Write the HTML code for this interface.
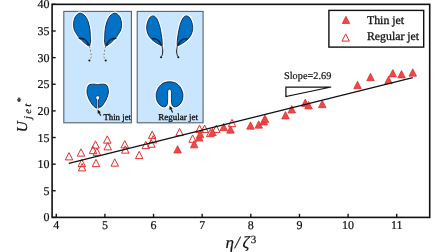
<!DOCTYPE html>
<html><head><meta charset="utf-8"><title>Jet velocity</title>
<style>
html,body{margin:0;padding:0;background:#fff;}
body{width:448px;height:252px;overflow:hidden;}
svg{display:block;}
text{font-family:"Liberation Serif","DejaVu Serif",serif;fill:#111;stroke:#111;stroke-width:0.2px;text-rendering:geometricPrecision;}
</style></head><body>
<svg width="448" height="252" viewBox="0 0 448 252">
<rect width="448" height="252" fill="#fff"/>

<rect x="52.1" y="4.35" width="377.59999999999997" height="213.05" fill="none" stroke="#111" stroke-width="1.6"/>
<line x1="56.25" y1="217.4" x2="56.25" y2="213.8" stroke="#111" stroke-width="1.35"/>
<text x="56.25" y="228.9" font-size="12" text-anchor="middle">4</text>
<line x1="104.89" y1="217.4" x2="104.89" y2="213.8" stroke="#111" stroke-width="1.35"/>
<text x="104.89" y="228.9" font-size="12" text-anchor="middle">5</text>
<line x1="153.53" y1="217.4" x2="153.53" y2="213.8" stroke="#111" stroke-width="1.35"/>
<text x="153.53" y="228.9" font-size="12" text-anchor="middle">6</text>
<line x1="202.17" y1="217.4" x2="202.17" y2="213.8" stroke="#111" stroke-width="1.35"/>
<text x="202.17" y="228.9" font-size="12" text-anchor="middle">7</text>
<line x1="250.81" y1="217.4" x2="250.81" y2="213.8" stroke="#111" stroke-width="1.35"/>
<text x="250.81" y="228.9" font-size="12" text-anchor="middle">8</text>
<line x1="299.45" y1="217.4" x2="299.45" y2="213.8" stroke="#111" stroke-width="1.35"/>
<text x="299.45" y="228.9" font-size="12" text-anchor="middle">9</text>
<line x1="348.09" y1="217.4" x2="348.09" y2="213.8" stroke="#111" stroke-width="1.35"/>
<text x="348.09" y="228.9" font-size="12" text-anchor="middle">10</text>
<line x1="396.73" y1="217.4" x2="396.73" y2="213.8" stroke="#111" stroke-width="1.35"/>
<text x="396.73" y="228.9" font-size="12" text-anchor="middle">11</text>
<line x1="52.1" y1="217.40" x2="55.7" y2="217.40" stroke="#111" stroke-width="1.35"/>
<text x="49.6" y="221.40" font-size="12" text-anchor="end">0</text>
<line x1="52.1" y1="190.77" x2="55.7" y2="190.77" stroke="#111" stroke-width="1.35"/>
<text x="49.6" y="194.77" font-size="12" text-anchor="end">5</text>
<line x1="52.1" y1="164.14" x2="55.7" y2="164.14" stroke="#111" stroke-width="1.35"/>
<text x="49.6" y="168.14" font-size="12" text-anchor="end">10</text>
<line x1="52.1" y1="137.51" x2="55.7" y2="137.51" stroke="#111" stroke-width="1.35"/>
<text x="49.6" y="141.51" font-size="12" text-anchor="end">15</text>
<line x1="52.1" y1="110.88" x2="55.7" y2="110.88" stroke="#111" stroke-width="1.35"/>
<text x="49.6" y="114.88" font-size="12" text-anchor="end">20</text>
<line x1="52.1" y1="84.25" x2="55.7" y2="84.25" stroke="#111" stroke-width="1.35"/>
<text x="49.6" y="88.25" font-size="12" text-anchor="end">25</text>
<line x1="52.1" y1="57.62" x2="55.7" y2="57.62" stroke="#111" stroke-width="1.35"/>
<text x="49.6" y="61.62" font-size="12" text-anchor="end">30</text>
<line x1="52.1" y1="30.99" x2="55.7" y2="30.99" stroke="#111" stroke-width="1.35"/>
<text x="49.6" y="34.99" font-size="12" text-anchor="end">35</text>
<line x1="52.1" y1="4.36" x2="55.7" y2="4.36" stroke="#111" stroke-width="1.35"/>
<text x="49.6" y="8.36" font-size="12" text-anchor="end">40</text>
<g id="insets">
<rect x="63.8" y="11.4" width="67.6" height="111.4" fill="#cae6fe" stroke="#59616c" stroke-width="1.1"/>
<rect x="137.2" y="11.4" width="65.9" height="111.4" fill="#cae6fe" stroke="#59616c" stroke-width="1.1"/>
<path d="M89.60,46.30C89.77,45.42 90.47,42.52 90.60,41.00C90.73,39.48 90.52,39.10 90.40,37.20C90.28,35.30 90.27,32.13 89.90,29.60C89.53,27.07 89.02,24.28 88.20,22.00C87.38,19.72 86.37,17.37 85.00,15.90C83.63,14.43 81.58,13.10 80.00,13.20C78.42,13.30 76.57,14.83 75.50,16.50C74.43,18.17 73.81,21.02 73.60,23.20C73.39,25.38 73.62,27.58 74.25,29.60C74.88,31.62 76.56,33.93 77.40,35.30C78.24,36.67 78.28,36.68 79.30,37.80C80.32,38.92 82.22,40.83 83.50,42.00C84.78,43.17 85.98,44.08 87.00,44.80C88.02,45.52 89.17,46.05 89.60,46.30Z" fill="none" stroke="#fff" stroke-width="3.4" stroke-opacity="0.9" stroke-linejoin="round"/>
<path d="M89.60,46.30C89.77,45.42 90.47,42.52 90.60,41.00C90.73,39.48 90.52,39.10 90.40,37.20C90.28,35.30 90.27,32.13 89.90,29.60C89.53,27.07 89.02,24.28 88.20,22.00C87.38,19.72 86.37,17.37 85.00,15.90C83.63,14.43 81.58,13.10 80.00,13.20C78.42,13.30 76.57,14.83 75.50,16.50C74.43,18.17 73.81,21.02 73.60,23.20C73.39,25.38 73.62,27.58 74.25,29.60C74.88,31.62 76.56,33.93 77.40,35.30C78.24,36.67 78.28,36.68 79.30,37.80C80.32,38.92 82.22,40.83 83.50,42.00C84.78,43.17 85.98,44.08 87.00,44.80C88.02,45.52 89.17,46.05 89.60,46.30Z" fill="#0272c6" stroke="#0a2348" stroke-width="0.9" stroke-linejoin="round"/>
<path d="M79.30,38.30C80.02,38.40 82.30,38.27 83.60,38.90C84.90,39.53 86.32,41.15 87.10,42.10C87.88,43.05 88.10,44.18 88.30,44.60" fill="none" stroke="#0a2348" stroke-width="1.6" stroke-linecap="round"/>
<path d="M89.50,46.10C89.63,46.72 90.05,48.52 90.30,49.80C90.55,51.08 90.86,52.63 91.00,53.80C91.14,54.97 91.22,55.97 91.15,56.80C91.08,57.63 90.82,58.27 90.60,58.80C90.38,59.33 89.93,59.80 89.80,60.00" fill="none" stroke="#fff" stroke-width="1.3" stroke-opacity="0.8"/>
<path d="M89.50,46.10C89.63,46.72 90.05,48.52 90.30,49.80C90.55,51.08 90.86,52.63 91.00,53.80C91.14,54.97 91.22,55.97 91.15,56.80C91.08,57.63 90.82,58.27 90.60,58.80C90.38,59.33 89.93,59.80 89.80,60.00" fill="none" stroke="#3a4658" stroke-width="0.7" stroke-dasharray="2.2 1.3"/>
<circle cx="89.40" cy="60.50" r="1.05" fill="#101418"/>
<path d="M105.50,46.30C105.33,45.42 104.63,42.52 104.50,41.00C104.37,39.48 104.58,39.10 104.70,37.20C104.82,35.30 104.83,32.13 105.20,29.60C105.57,27.07 106.08,24.28 106.90,22.00C107.72,19.72 108.73,17.37 110.10,15.90C111.47,14.43 113.52,13.10 115.10,13.20C116.68,13.30 118.53,14.83 119.60,16.50C120.67,18.17 121.29,21.02 121.50,23.20C121.71,25.38 121.48,27.58 120.85,29.60C120.22,31.62 118.54,33.93 117.70,35.30C116.86,36.67 116.82,36.68 115.80,37.80C114.78,38.92 112.88,40.83 111.60,42.00C110.32,43.17 109.12,44.08 108.10,44.80C107.08,45.52 105.93,46.05 105.50,46.30Z" fill="none" stroke="#fff" stroke-width="3.4" stroke-opacity="0.9" stroke-linejoin="round"/>
<path d="M105.50,46.30C105.33,45.42 104.63,42.52 104.50,41.00C104.37,39.48 104.58,39.10 104.70,37.20C104.82,35.30 104.83,32.13 105.20,29.60C105.57,27.07 106.08,24.28 106.90,22.00C107.72,19.72 108.73,17.37 110.10,15.90C111.47,14.43 113.52,13.10 115.10,13.20C116.68,13.30 118.53,14.83 119.60,16.50C120.67,18.17 121.29,21.02 121.50,23.20C121.71,25.38 121.48,27.58 120.85,29.60C120.22,31.62 118.54,33.93 117.70,35.30C116.86,36.67 116.82,36.68 115.80,37.80C114.78,38.92 112.88,40.83 111.60,42.00C110.32,43.17 109.12,44.08 108.10,44.80C107.08,45.52 105.93,46.05 105.50,46.30Z" fill="#0272c6" stroke="#0a2348" stroke-width="0.9" stroke-linejoin="round"/>
<path d="M115.80,38.30C115.08,38.40 112.80,38.27 111.50,38.90C110.20,39.53 108.78,41.15 108.00,42.10C107.22,43.05 107.00,44.18 106.80,44.60" fill="none" stroke="#0a2348" stroke-width="1.6" stroke-linecap="round"/>
<path d="M105.60,46.10C105.47,46.72 105.05,48.52 104.80,49.80C104.55,51.08 104.24,52.63 104.10,53.80C103.96,54.97 103.88,55.97 103.95,56.80C104.02,57.63 104.28,58.27 104.50,58.80C104.72,59.33 105.17,59.80 105.30,60.00" fill="none" stroke="#fff" stroke-width="1.3" stroke-opacity="0.8"/>
<path d="M105.60,46.10C105.47,46.72 105.05,48.52 104.80,49.80C104.55,51.08 104.24,52.63 104.10,53.80C103.96,54.97 103.88,55.97 103.95,56.80C104.02,57.63 104.28,58.27 104.50,58.80C104.72,59.33 105.17,59.80 105.30,60.00" fill="none" stroke="#3a4658" stroke-width="0.7" stroke-dasharray="2.2 1.3"/>
<circle cx="105.70" cy="60.50" r="1.05" fill="#101418"/>
<path d="M162.20,46.40C162.18,45.50 162.25,42.93 162.10,41.00C161.95,39.07 161.70,37.22 161.30,34.80C160.90,32.38 160.47,29.20 159.70,26.50C158.93,23.80 157.77,20.37 156.70,18.60C155.63,16.83 154.53,15.95 153.30,15.90C152.07,15.85 150.40,16.53 149.30,18.30C148.20,20.07 146.93,23.92 146.70,26.50C146.47,29.08 147.13,31.73 147.90,33.80C148.67,35.87 149.87,37.37 151.30,38.90C152.73,40.43 154.98,41.95 156.50,43.00C158.02,44.05 159.45,44.63 160.40,45.20C161.35,45.77 161.90,46.20 162.20,46.40Z" fill="none" stroke="#fff" stroke-width="3.4" stroke-opacity="0.9" stroke-linejoin="round"/>
<path d="M162.20,46.40C162.18,45.50 162.25,42.93 162.10,41.00C161.95,39.07 161.70,37.22 161.30,34.80C160.90,32.38 160.47,29.20 159.70,26.50C158.93,23.80 157.77,20.37 156.70,18.60C155.63,16.83 154.53,15.95 153.30,15.90C152.07,15.85 150.40,16.53 149.30,18.30C148.20,20.07 146.93,23.92 146.70,26.50C146.47,29.08 147.13,31.73 147.90,33.80C148.67,35.87 149.87,37.37 151.30,38.90C152.73,40.43 154.98,41.95 156.50,43.00C158.02,44.05 159.45,44.63 160.40,45.20C161.35,45.77 161.90,46.20 162.20,46.40Z" fill="#0272c6" stroke="#0a2348" stroke-width="0.9" stroke-linejoin="round"/>
<path d="M153.00,38.60C153.55,38.72 155.27,38.80 156.30,39.30C157.33,39.80 158.42,40.75 159.20,41.60C159.98,42.45 160.70,43.93 161.00,44.40" fill="none" stroke="#0a2348" stroke-width="1.6" stroke-linecap="round"/>
<path d="M162.20,46.40C162.29,47.17 162.73,49.60 162.75,51.00C162.77,52.40 162.53,53.87 162.30,54.80C162.08,55.73 161.55,56.30 161.40,56.60" fill="none" stroke="#fff" stroke-width="1.3" stroke-opacity="0.8"/>
<path d="M162.20,46.40C162.29,47.17 162.73,49.60 162.75,51.00C162.77,52.40 162.53,53.87 162.30,54.80C162.08,55.73 161.55,56.30 161.40,56.60" fill="none" stroke="#101418" stroke-width="1.0"/>
<circle cx="161.10" cy="57.20" r="1.05" fill="#101418"/>
<path d="M177.20,46.40C177.22,45.50 177.15,42.93 177.30,41.00C177.45,39.07 177.70,37.22 178.10,34.80C178.50,32.38 178.93,29.20 179.70,26.50C180.47,23.80 181.63,20.37 182.70,18.60C183.77,16.83 184.87,15.95 186.10,15.90C187.33,15.85 189.00,16.53 190.10,18.30C191.20,20.07 192.47,23.92 192.70,26.50C192.93,29.08 192.27,31.73 191.50,33.80C190.73,35.87 189.53,37.37 188.10,38.90C186.67,40.43 184.42,41.95 182.90,43.00C181.38,44.05 179.95,44.63 179.00,45.20C178.05,45.77 177.50,46.20 177.20,46.40Z" fill="none" stroke="#fff" stroke-width="3.4" stroke-opacity="0.9" stroke-linejoin="round"/>
<path d="M177.20,46.40C177.22,45.50 177.15,42.93 177.30,41.00C177.45,39.07 177.70,37.22 178.10,34.80C178.50,32.38 178.93,29.20 179.70,26.50C180.47,23.80 181.63,20.37 182.70,18.60C183.77,16.83 184.87,15.95 186.10,15.90C187.33,15.85 189.00,16.53 190.10,18.30C191.20,20.07 192.47,23.92 192.70,26.50C192.93,29.08 192.27,31.73 191.50,33.80C190.73,35.87 189.53,37.37 188.10,38.90C186.67,40.43 184.42,41.95 182.90,43.00C181.38,44.05 179.95,44.63 179.00,45.20C178.05,45.77 177.50,46.20 177.20,46.40Z" fill="#0272c6" stroke="#0a2348" stroke-width="0.9" stroke-linejoin="round"/>
<path d="M186.40,38.60C185.85,38.72 184.13,38.80 183.10,39.30C182.07,39.80 180.98,40.75 180.20,41.60C179.42,42.45 178.70,43.93 178.40,44.40" fill="none" stroke="#0a2348" stroke-width="1.6" stroke-linecap="round"/>
<path d="M177.20,46.40C177.11,47.17 176.67,49.60 176.65,51.00C176.63,52.40 176.87,53.87 177.10,54.80C177.32,55.73 177.85,56.30 178.00,56.60" fill="none" stroke="#fff" stroke-width="1.3" stroke-opacity="0.8"/>
<path d="M177.20,46.40C177.11,47.17 176.67,49.60 176.65,51.00C176.63,52.40 176.87,53.87 177.10,54.80C177.32,55.73 177.85,56.30 178.00,56.60" fill="none" stroke="#101418" stroke-width="1.0"/>
<circle cx="178.30" cy="57.20" r="1.05" fill="#101418"/>
<path d="M97.70,84.70C97.00,84.70 96.47,84.38 95.60,84.30C94.73,84.22 93.45,84.15 92.50,84.20C91.55,84.25 90.63,84.27 89.90,84.60C89.17,84.93 88.58,85.17 88.10,86.20C87.62,87.23 87.08,89.30 87.00,90.80C86.92,92.30 87.17,93.62 87.60,95.20C88.03,96.78 88.87,98.82 89.60,100.30C90.33,101.78 91.22,103.03 92.00,104.10C92.78,105.17 93.58,106.08 94.30,106.70C95.02,107.32 95.17,107.80 96.30,107.80C97.43,107.80 99.92,107.32 101.10,106.70C102.28,106.08 102.62,105.17 103.40,104.10C104.18,103.03 105.07,101.78 105.80,100.30C106.53,98.82 107.37,96.78 107.80,95.20C108.23,93.62 108.48,92.30 108.40,90.80C108.32,89.30 107.78,87.23 107.30,86.20C106.82,85.17 106.23,84.93 105.50,84.60C104.77,84.27 103.85,84.25 102.90,84.20C101.95,84.15 100.67,84.22 99.80,84.30C98.93,84.38 98.40,84.70 97.70,84.70Z" fill="none" stroke="#fff" stroke-width="3.4" stroke-opacity="0.9"/>
<path d="M97.70,84.70C97.00,84.70 96.47,84.38 95.60,84.30C94.73,84.22 93.45,84.15 92.50,84.20C91.55,84.25 90.63,84.27 89.90,84.60C89.17,84.93 88.58,85.17 88.10,86.20C87.62,87.23 87.08,89.30 87.00,90.80C86.92,92.30 87.17,93.62 87.60,95.20C88.03,96.78 88.87,98.82 89.60,100.30C90.33,101.78 91.22,103.03 92.00,104.10C92.78,105.17 93.58,106.08 94.30,106.70C95.02,107.32 95.17,107.80 96.30,107.80C97.43,107.80 99.92,107.32 101.10,106.70C102.28,106.08 102.62,105.17 103.40,104.10C104.18,103.03 105.07,101.78 105.80,100.30C106.53,98.82 107.37,96.78 107.80,95.20C108.23,93.62 108.48,92.30 108.40,90.80C108.32,89.30 107.78,87.23 107.30,86.20C106.82,85.17 106.23,84.93 105.50,84.60C104.77,84.27 103.85,84.25 102.90,84.20C101.95,84.15 100.67,84.22 99.80,84.30C98.93,84.38 98.40,84.70 97.70,84.70Z" fill="#0272c6" stroke="#0a2348" stroke-width="0.9"/>
<path d="M96.85000000000001,108.3 L96.95,99.6 A2.0,2.0 0 1 1 98.45,99.6 L98.55,108.3 Z" fill="#fff" stroke="#0a2348" stroke-width="0.8" stroke-linejoin="round"/>
<rect x="97.25" y="107.5" width="0.9" height="1.4" fill="#fff"/>
<line x1="100.80" y1="115.70" x2="99.31" y2="112.94" stroke="#111" stroke-width="1.1"/><polygon points="97.50,109.60 100.80,112.13 97.81,113.75" fill="#111"/>
<text x="103.4" y="120.2" font-size="8.8" style="stroke-width:0.3px">Thin jet</text>
<path d="M167.35000000000002,107.8 L167.65,90.8 A1.9,1.9 0 0 1 171.45000000000002,90.8 L171.75,107.8Z" fill="#fff"/>
<path d="M169.55,81.80C167.57,81.80 165.31,82.20 163.60,83.00C161.89,83.80 160.43,85.17 159.30,86.60C158.17,88.03 157.32,90.05 156.80,91.60C156.28,93.15 156.15,94.35 156.20,95.90C156.25,97.45 156.48,99.40 157.10,100.90C157.72,102.40 158.85,103.92 159.90,104.90C160.95,105.88 162.40,106.55 163.40,106.80C164.40,107.05 165.27,106.83 165.90,106.40C166.53,105.97 166.91,105.37 167.20,104.20C167.49,103.03 167.57,101.38 167.65,99.40C167.73,97.42 167.56,93.87 167.65,92.30C167.74,90.73 167.88,90.55 168.20,90.00C168.52,89.45 169.10,89.00 169.55,89.00C170.00,89.00 170.58,89.45 170.90,90.00C171.22,90.55 171.36,90.73 171.45,92.30C171.54,93.87 171.38,97.42 171.45,99.40C171.53,101.38 171.61,103.03 171.90,104.20C172.19,105.37 172.57,105.97 173.20,106.40C173.83,106.83 174.70,107.05 175.70,106.80C176.70,106.55 178.15,105.88 179.20,104.90C180.25,103.92 181.38,102.40 182.00,100.90C182.62,99.40 182.85,97.45 182.90,95.90C182.95,94.35 182.82,93.15 182.30,91.60C181.78,90.05 180.93,88.03 179.80,86.60C178.67,85.17 177.21,83.80 175.50,83.00C173.79,82.20 171.53,81.80 169.55,81.80Z" fill="none" stroke="#fff" stroke-width="3.4" stroke-opacity="0.9"/>
<path d="M169.55,81.80C167.57,81.80 165.31,82.20 163.60,83.00C161.89,83.80 160.43,85.17 159.30,86.60C158.17,88.03 157.32,90.05 156.80,91.60C156.28,93.15 156.15,94.35 156.20,95.90C156.25,97.45 156.48,99.40 157.10,100.90C157.72,102.40 158.85,103.92 159.90,104.90C160.95,105.88 162.40,106.55 163.40,106.80C164.40,107.05 165.27,106.83 165.90,106.40C166.53,105.97 166.91,105.37 167.20,104.20C167.49,103.03 167.57,101.38 167.65,99.40C167.73,97.42 167.56,93.87 167.65,92.30C167.74,90.73 167.88,90.55 168.20,90.00C168.52,89.45 169.10,89.00 169.55,89.00C170.00,89.00 170.58,89.45 170.90,90.00C171.22,90.55 171.36,90.73 171.45,92.30C171.54,93.87 171.38,97.42 171.45,99.40C171.53,101.38 171.61,103.03 171.90,104.20C172.19,105.37 172.57,105.97 173.20,106.40C173.83,106.83 174.70,107.05 175.70,106.80C176.70,106.55 178.15,105.88 179.20,104.90C180.25,103.92 181.38,102.40 182.00,100.90C182.62,99.40 182.85,97.45 182.90,95.90C182.95,94.35 182.82,93.15 182.30,91.60C181.78,90.05 180.93,88.03 179.80,86.60C178.67,85.17 177.21,83.80 175.50,83.00C173.79,82.20 171.53,81.80 169.55,81.80Z" fill="#0272c6" stroke="#0a2348" stroke-width="0.9"/>
<line x1="172.60" y1="112.60" x2="171.08" y2="109.26" stroke="#111" stroke-width="1.1"/><polygon points="169.50,105.80 172.62,108.55 169.53,109.96" fill="#111"/>
<text x="158.3" y="119.7" font-size="9.0" style="stroke-width:0.3px">Regular jet</text>
</g>
<polygon points="285.9,87.0 331.2,87.0 285.9,96.6" fill="#fff" stroke="#111" stroke-width="1.25" stroke-linejoin="miter"/>
<text x="284" y="79.0" font-size="10.3">Slope=2.69</text>
<polygon points="69.00,152.60 72.75,159.90 65.25,159.90" fill="#fff" fill-opacity="0.0" stroke="#e32d2d" stroke-width="1.0" stroke-linejoin="miter"/>
<polygon points="81.00,148.85 84.75,156.15 77.25,156.15" fill="#fff" fill-opacity="0.0" stroke="#e32d2d" stroke-width="1.0" stroke-linejoin="miter"/>
<polygon points="81.75,159.35 85.50,166.65 78.00,166.65" fill="#fff" fill-opacity="0.0" stroke="#e32d2d" stroke-width="1.0" stroke-linejoin="miter"/>
<polygon points="82.10,163.55 85.85,170.85 78.35,170.85" fill="#fff" fill-opacity="0.0" stroke="#e32d2d" stroke-width="1.0" stroke-linejoin="miter"/>
<polygon points="93.00,146.35 96.75,153.65 89.25,153.65" fill="#fff" fill-opacity="0.0" stroke="#e32d2d" stroke-width="1.0" stroke-linejoin="miter"/>
<polygon points="95.50,140.85 99.25,148.15 91.75,148.15" fill="#fff" fill-opacity="0.0" stroke="#e32d2d" stroke-width="1.0" stroke-linejoin="miter"/>
<polygon points="96.90,148.05 100.65,155.35 93.15,155.35" fill="#fff" fill-opacity="0.0" stroke="#e32d2d" stroke-width="1.0" stroke-linejoin="miter"/>
<polygon points="96.00,159.35 99.75,166.65 92.25,166.65" fill="#fff" fill-opacity="0.0" stroke="#e32d2d" stroke-width="1.0" stroke-linejoin="miter"/>
<polygon points="107.25,135.85 111.00,143.15 103.50,143.15" fill="#fff" fill-opacity="0.0" stroke="#e32d2d" stroke-width="1.0" stroke-linejoin="miter"/>
<polygon points="107.75,142.60 111.50,149.90 104.00,149.90" fill="#fff" fill-opacity="0.0" stroke="#e32d2d" stroke-width="1.0" stroke-linejoin="miter"/>
<polygon points="114.75,158.85 118.50,166.15 111.00,166.15" fill="#fff" fill-opacity="0.0" stroke="#e32d2d" stroke-width="1.0" stroke-linejoin="miter"/>
<polygon points="124.75,140.60 128.50,147.90 121.00,147.90" fill="#fff" fill-opacity="0.0" stroke="#e32d2d" stroke-width="1.0" stroke-linejoin="miter"/>
<polygon points="125.25,145.85 129.00,153.15 121.50,153.15" fill="#fff" fill-opacity="0.0" stroke="#e32d2d" stroke-width="1.0" stroke-linejoin="miter"/>
<polygon points="139.20,151.35 142.95,158.65 135.45,158.65" fill="#fff" fill-opacity="0.0" stroke="#e32d2d" stroke-width="1.0" stroke-linejoin="miter"/>
<polygon points="145.80,141.35 149.55,148.65 142.05,148.65" fill="#fff" fill-opacity="0.0" stroke="#e32d2d" stroke-width="1.0" stroke-linejoin="miter"/>
<polygon points="151.40,139.95 155.15,147.25 147.65,147.25" fill="#fff" fill-opacity="0.0" stroke="#e32d2d" stroke-width="1.0" stroke-linejoin="miter"/>
<polygon points="152.20,131.05 155.95,138.35 148.45,138.35" fill="#fff" fill-opacity="0.0" stroke="#e32d2d" stroke-width="1.0" stroke-linejoin="miter"/>
<polygon points="153.20,135.55 156.95,142.85 149.45,142.85" fill="#fff" fill-opacity="0.0" stroke="#e32d2d" stroke-width="1.0" stroke-linejoin="miter"/>
<polygon points="179.60,128.35 183.35,135.65 175.85,135.65" fill="#fff" fill-opacity="0.0" stroke="#e32d2d" stroke-width="1.0" stroke-linejoin="miter"/>
<polygon points="192.60,134.95 196.35,142.25 188.85,142.25" fill="#fff" fill-opacity="0.0" stroke="#e32d2d" stroke-width="1.0" stroke-linejoin="miter"/>
<polygon points="199.50,125.10 203.25,132.40 195.75,132.40" fill="#fff" fill-opacity="0.0" stroke="#e32d2d" stroke-width="1.0" stroke-linejoin="miter"/>
<polygon points="204.60,125.10 208.35,132.40 200.85,132.40" fill="#fff" fill-opacity="0.0" stroke="#e32d2d" stroke-width="1.0" stroke-linejoin="miter"/>
<polygon points="210.30,129.35 214.05,136.65 206.55,136.65" fill="#fff" fill-opacity="0.0" stroke="#e32d2d" stroke-width="1.0" stroke-linejoin="miter"/>
<polygon points="216.25,125.10 220.00,132.40 212.50,132.40" fill="#fff" fill-opacity="0.0" stroke="#e32d2d" stroke-width="1.0" stroke-linejoin="miter"/>
<polygon points="232.00,119.35 235.75,126.65 228.25,126.65" fill="#fff" fill-opacity="0.0" stroke="#e32d2d" stroke-width="1.0" stroke-linejoin="miter"/>
<polygon points="177.60,145.65 181.35,152.95 173.85,152.95" fill="#e84a4a" stroke="#e32d2d" stroke-width="0.8" stroke-linejoin="round"/>
<polygon points="194.20,140.55 197.95,147.85 190.45,147.85" fill="#e84a4a" stroke="#e32d2d" stroke-width="0.8" stroke-linejoin="round"/>
<polygon points="199.20,133.75 202.95,141.05 195.45,141.05" fill="#e84a4a" stroke="#e32d2d" stroke-width="0.8" stroke-linejoin="round"/>
<polygon points="200.20,130.55 203.95,137.85 196.45,137.85" fill="#e84a4a" stroke="#e32d2d" stroke-width="0.8" stroke-linejoin="round"/>
<polygon points="212.50,128.35 216.25,135.65 208.75,135.65" fill="#e84a4a" stroke="#e32d2d" stroke-width="0.8" stroke-linejoin="round"/>
<polygon points="223.75,123.35 227.50,130.65 220.00,130.65" fill="#e84a4a" stroke="#e32d2d" stroke-width="0.8" stroke-linejoin="round"/>
<polygon points="230.50,125.85 234.25,133.15 226.75,133.15" fill="#e84a4a" stroke="#e32d2d" stroke-width="0.8" stroke-linejoin="round"/>
<polygon points="250.50,121.85 254.25,129.15 246.75,129.15" fill="#e84a4a" stroke="#e32d2d" stroke-width="0.8" stroke-linejoin="round"/>
<polygon points="258.75,120.85 262.50,128.15 255.00,128.15" fill="#e84a4a" stroke="#e32d2d" stroke-width="0.8" stroke-linejoin="round"/>
<polygon points="263.75,117.60 267.50,124.90 260.00,124.90" fill="#e84a4a" stroke="#e32d2d" stroke-width="0.8" stroke-linejoin="round"/>
<polygon points="265.00,115.10 268.75,122.40 261.25,122.40" fill="#e84a4a" stroke="#e32d2d" stroke-width="0.8" stroke-linejoin="round"/>
<polygon points="285.50,111.60 289.25,118.90 281.75,118.90" fill="#e84a4a" stroke="#e32d2d" stroke-width="0.8" stroke-linejoin="round"/>
<polygon points="291.75,105.60 295.50,112.90 288.00,112.90" fill="#e84a4a" stroke="#e32d2d" stroke-width="0.8" stroke-linejoin="round"/>
<polygon points="305.25,99.10 309.00,106.40 301.50,106.40" fill="#e84a4a" stroke="#e32d2d" stroke-width="0.8" stroke-linejoin="round"/>
<polygon points="308.50,101.60 312.25,108.90 304.75,108.90" fill="#e84a4a" stroke="#e32d2d" stroke-width="0.8" stroke-linejoin="round"/>
<polygon points="322.25,100.35 326.00,107.65 318.50,107.65" fill="#e84a4a" stroke="#e32d2d" stroke-width="0.8" stroke-linejoin="round"/>
<polygon points="357.50,81.35 361.25,88.65 353.75,88.65" fill="#e84a4a" stroke="#e32d2d" stroke-width="0.8" stroke-linejoin="round"/>
<polygon points="370.50,73.35 374.25,80.65 366.75,80.65" fill="#e84a4a" stroke="#e32d2d" stroke-width="0.8" stroke-linejoin="round"/>
<polygon points="388.50,76.35 392.25,83.65 384.75,83.65" fill="#e84a4a" stroke="#e32d2d" stroke-width="0.8" stroke-linejoin="round"/>
<polygon points="392.75,69.60 396.50,76.90 389.00,76.90" fill="#e84a4a" stroke="#e32d2d" stroke-width="0.8" stroke-linejoin="round"/>
<polygon points="401.50,70.60 405.25,77.90 397.75,77.90" fill="#e84a4a" stroke="#e32d2d" stroke-width="0.8" stroke-linejoin="round"/>
<polygon points="412.75,68.85 416.50,76.15 409.00,76.15" fill="#e84a4a" stroke="#e32d2d" stroke-width="0.8" stroke-linejoin="round"/>
<line x1="68.8" y1="163.4" x2="412.75" y2="77.7" stroke="#111" stroke-width="1.3"/>
<rect x="328.9" y="10.4" width="94.8" height="36.7" fill="#fff" stroke="#111" stroke-width="1.4"/>
<polygon points="345.95,16.35 349.65,23.55 342.25,23.55" fill="#e84a4a" stroke="#e32d2d" stroke-width="0.8" stroke-linejoin="round"/>
<polygon points="345.70,33.90 349.40,41.10 342.00,41.10" fill="#fff" fill-opacity="0.0" stroke="#e32d2d" stroke-width="1.0" stroke-linejoin="miter"/>
<text x="367" y="23.5" font-size="11.8" style="stroke-width:0.3px">Thin jet</text>
<text x="367" y="40.4" font-size="11.8" style="stroke-width:0.3px">Regular jet</text>
<text x="225.6" y="247.7" font-size="17" font-style="italic">η</text>
<text x="235.0" y="247.7" font-size="17" font-style="italic">/</text>
<text x="242.6" y="247.7" font-size="17" font-style="italic">ζ</text>
<text x="250.8" y="243.0" font-size="11">3</text>
<text transform="translate(27.1,132.2) rotate(-90)" font-size="15.2" font-style="italic">U</text>
<text transform="translate(31.2,119.0) rotate(-90)" font-size="10.5" font-style="italic" letter-spacing="2.3">jet</text>
<text transform="translate(24.4,102.4) rotate(-90)" font-size="10.5">*</text>
</svg></body></html>
